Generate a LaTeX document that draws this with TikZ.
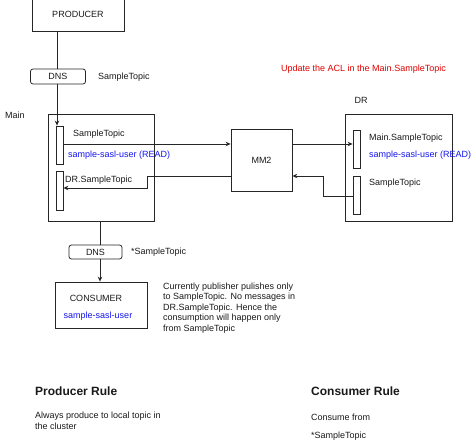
\documentclass[tikz,border=0pt]{standalone}
\usepackage{fontspec}
\setmainfont{Liberation Sans}
\usetikzlibrary{arrows.meta}
\definecolor{txtblue}{RGB}{20,20,240}
\definecolor{txtred}{RGB}{225,0,0}
\begin{document}
\begin{tikzpicture}[x=1pt,y=-1pt,
  every node/.style={font=\fontsize{9}{10.5}\selectfont, inner sep=0pt, text=black!90},
  box/.style={draw=black!85, line width=0.8pt, minimum width=#1, rectangle},
  rbox/.style={draw=black!85, line width=0.8pt, rounded corners=2.5pt, rectangle},
  bar/.style={draw=black!85, line width=0.8pt, minimum width=7pt, rectangle},
  conn/.style={draw=black!85, line width=0.8pt},
  arr/.style={conn, -{Stealth[length=5pt,width=4.5pt]}},
  lbl/.style={anchor=west},
  blu/.style={anchor=west, text=txtblue},
  title/.style={anchor=west, font=\fontsize{12}{14}\selectfont\bfseries}]
\useasboundingbox (0,0) rectangle (474,443);
\clip (0,0) rectangle (474,443);

% producer
\node[box=92pt, minimum height=34pt] (prod) at (78,14) {PRODUCER};
\node[rbox, minimum width=55pt, minimum height=15pt] (dns1) at (58,76.5) {DNS};
\node[lbl] (st1) at (98,77) {SampleTopic};

% main cluster
\node[anchor=west] (mainlbl) at (5,115) {Main};
\node[box=106pt, minimum height=107pt] (main) at (101,167.5) {};
\node[bar, minimum height=38pt] (bar1m) at (59.5,145) {};
\node[bar, minimum height=39pt] (bar2m) at (59.5,190.5) {};
\node[lbl] (mst) at (73,134) {SampleTopic};
\node[blu] (mus) at (68,155) {sample-sasl-user (READ)};
\node[lbl] (mdr) at (65,180) {DR.SampleTopic};

% MM2
\node[box=61pt, minimum height=62pt] (mm2) at (261.5,160) {MM2};

% DR cluster
\node[anchor=center] (drlbl) at (361,100) {DR};
\node[box=107pt, minimum height=107pt] (dr) at (398.5,167.5) {};
\node[bar, minimum height=38pt] (bar1d) at (356.5,149) {};
\node[bar, minimum height=38pt] (bar2d) at (356.5,195) {};
\node[lbl] (dmst) at (369,138) {Main.SampleTopic};
\node[blu] (dus) at (369,155) {sample-sasl-user (READ)};
\node[lbl] (dst) at (369,183) {SampleTopic};

\node[lbl, text=txtred] (acl) at (281,69) {Update the ACL in the Main.SampleTopic};

% consumer side
\node[rbox, minimum width=53pt, minimum height=14pt] (dns2) at (95.5,252) {DNS};
\node[lbl] (st2) at (131,252) {*SampleTopic};
\node[box=92pt, minimum height=46pt] (cons) at (101,305) {};
\node (conslbl) at (96,298) {CONSUMER};
\node[text=txtblue] (consus) at (98,316) {sample-sasl-user};
\node[anchor=north west, align=left] (note) at (163,282.5) {Currently publisher pulishes only\\to SampleTopic. No messages in\\DR.SampleTopic. Hence the\\consumption will happen only\\from SampleTopic};

% rules
\node[title] (prule) at (35,391) {Producer Rule};
\node[anchor=north west, align=left, font=\fontsize{9}{11}\selectfont] (ptext) at (35,411.5) {Always produce to local topic in\\the cluster};
\node[title] (crule) at (311,391) {Consumer Rule};
\node[lbl] (ctext) at (311,417) {Consume from};
\node[lbl] (ctext2) at (311,436) {*SampleTopic};

% helper coordinates
\coordinate (xa) at (57,0);
\coordinate (ya) at (0,144);
\coordinate (k1) at (147,176);
\coordinate (k2) at (147,188);
\coordinate (k3) at (323,196);
\coordinate (k4) at (323,176);
\coordinate (xc) at (100,0);

% connectors
\draw[conn] (prod.south -| xa) -- (dns1.north -| xa);
\draw[arr] (dns1.south -| xa) -- (bar1m.north -| xa);
\draw[arr] (bar1m.east |- ya) -- (mm2.west |- ya);
\draw[arr] (mm2.west |- k1) -- (k1) -- (k2) -- (bar2m.east |- k2);
\draw[arr] (mm2.east |- ya) -- (bar1d.west |- ya);
\draw[arr] (bar2d.west |- k3) -- (k3) -- (k4) -- (mm2.east |- k4);
\draw[conn] (main.south -| xc) -- (dns2.north -| xc);
\draw[arr] (dns2.south -| xc) -- (cons.north -| xc);
\end{tikzpicture}
\end{document}
